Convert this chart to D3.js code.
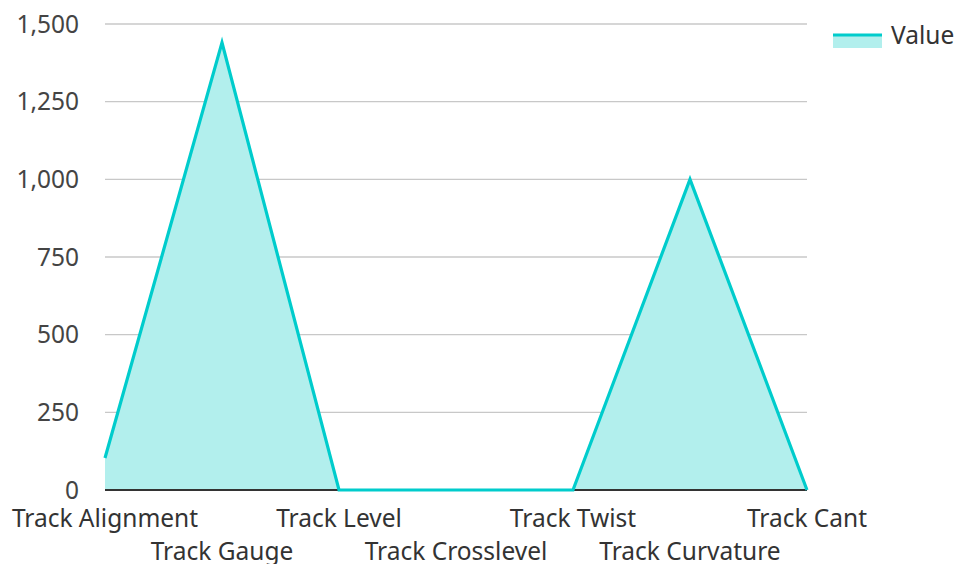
<!DOCTYPE html>
<html><head><meta charset="utf-8">
<script src="https://cdn.jsdelivr.net/npm/d3@7"></script>
<style>body{margin:0;background:#fff}svg{display:block}</style>
</head><body><svg id="c" width="957" height="564"></svg>
<script>
const categories = ["Track Alignment","Track Gauge","Track Level","Track Crosslevel","Track Twist","Track Curvature","Track Cant"];
const values = [103, 1440, 0, 0, 0, 1000, 0];
const yTicks = [0,250,500,750,1000,1250,1500];
const seriesName = "Value";

const svg = d3.select("#c");
const font = "'Noto Sans', sans-serif";
const fs = 24.5;
const pLeft = 105, pRight = 807, pTop = 24, pBottom = 490;
const x = d3.scalePoint().domain(categories).range([pLeft, pRight]);
const y = d3.scaleLinear().domain([0,1500]).range([pBottom, pTop]);

const g = svg.append("g");
g.selectAll("line.grid").data(yTicks.filter(d=>d>0)).join("line")
  .attr("x1", pLeft).attr("x2", pRight).attr("y1", d=>y(d)).attr("y2", d=>y(d))
  .attr("stroke","#c8c8c8").attr("stroke-width",1.3);

g.selectAll("text.yt").data(yTicks).join("text")
  .attr("x", 79).attr("y", d=>y(d)).attr("dy","0.35em").attr("text-anchor","end")
  .attr("font-family",font).attr("font-size",fs).attr("fill","#444").text(d=>d3.format(",")(d));

const data = categories.map((c,i)=>({c, v: values[i]}));
g.append("path").datum(data)
  .attr("d", d3.area().x(d=>x(d.c)).y0(y(0)).y1(d=>y(d.v)))
  .attr("fill","#b2efed");
g.append("line").attr("x1",pLeft).attr("x2",pRight).attr("y1",y(0)).attr("y2",y(0))
  .attr("stroke","#333").attr("stroke-width",2);
g.append("path").datum(data)
  .attr("d", d3.line().x(d=>x(d.c)).y(d=>y(d.v)))
  .attr("fill","none").attr("stroke","#00cccc").attr("stroke-width",3.2);

g.selectAll("text.xt").data(categories).join("text")
  .attr("x", d=>x(d)).attr("y", (d,i)=> i%2===0 ? 518 : 551).attr("dy","0.35em")
  .attr("text-anchor","middle").attr("font-family",font).attr("font-size",fs).attr("fill","#333").text(d=>d);

const lg = svg.append("g");
lg.append("rect").attr("x",833).attr("y",35).attr("width",49).attr("height",13).attr("fill","#b2efed");
lg.append("line").attr("x1",833).attr("x2",882).attr("y1",35).attr("y2",35).attr("stroke","#00cccc").attr("stroke-width",3);
lg.append("text").attr("x",891).attr("y",35).attr("dy","0.35em").attr("font-family",font).attr("font-size",fs).attr("fill","#333").text(seriesName);
</script></body></html>
